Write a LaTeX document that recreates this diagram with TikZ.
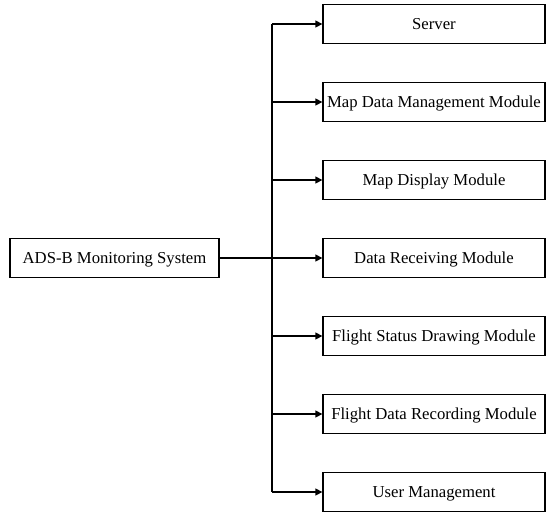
\documentclass[tikz,border=0pt]{standalone}
\usepackage{fontspec}
\setmainfont{Liberation Serif}
\usetikzlibrary{arrows.meta}
\begin{document}
\begin{tikzpicture}[x=1pt,y=-1pt,
  box/.style={draw,line width=1.3pt,minimum height=39pt,inner sep=0pt,text height=11pt,text depth=0pt,font=\fontsize{16.7}{18}\selectfont},
  mod/.style={box,minimum width=222pt},
  conn/.style={line width=1.3pt,-{Triangle[length=7pt,width=7pt]}}]
\useasboundingbox (0,0) rectangle (550,523);
\node[box,minimum width=209pt] (main) at (114.5,258) {ADS-B Monitoring System};
\node[mod] (m1) at (434,24) {Server};
\node[mod] (m2) at (434,102) {Map Data Management Module};
\node[mod] (m3) at (434,180) {Map Display Module};
\node[mod] (m4) at (434,258) {Data Receiving Module};
\node[mod] (m5) at (434,336) {Flight Status Drawing Module};
\node[mod] (m6) at (434,414) {Flight Data Recording Module};
\node[mod] (m7) at (434,492) {User Management};
\coordinate (bt) at (272,24);
\coordinate (bb) at (272,492);
\draw[line width=1.3pt] (bt) -- (bb);
\draw[conn] (main) -- (m4);
\foreach \i in {1,2,3,5,6,7} \draw[conn] (bt |- m\i) -- (m\i);
\end{tikzpicture}
\end{document}
